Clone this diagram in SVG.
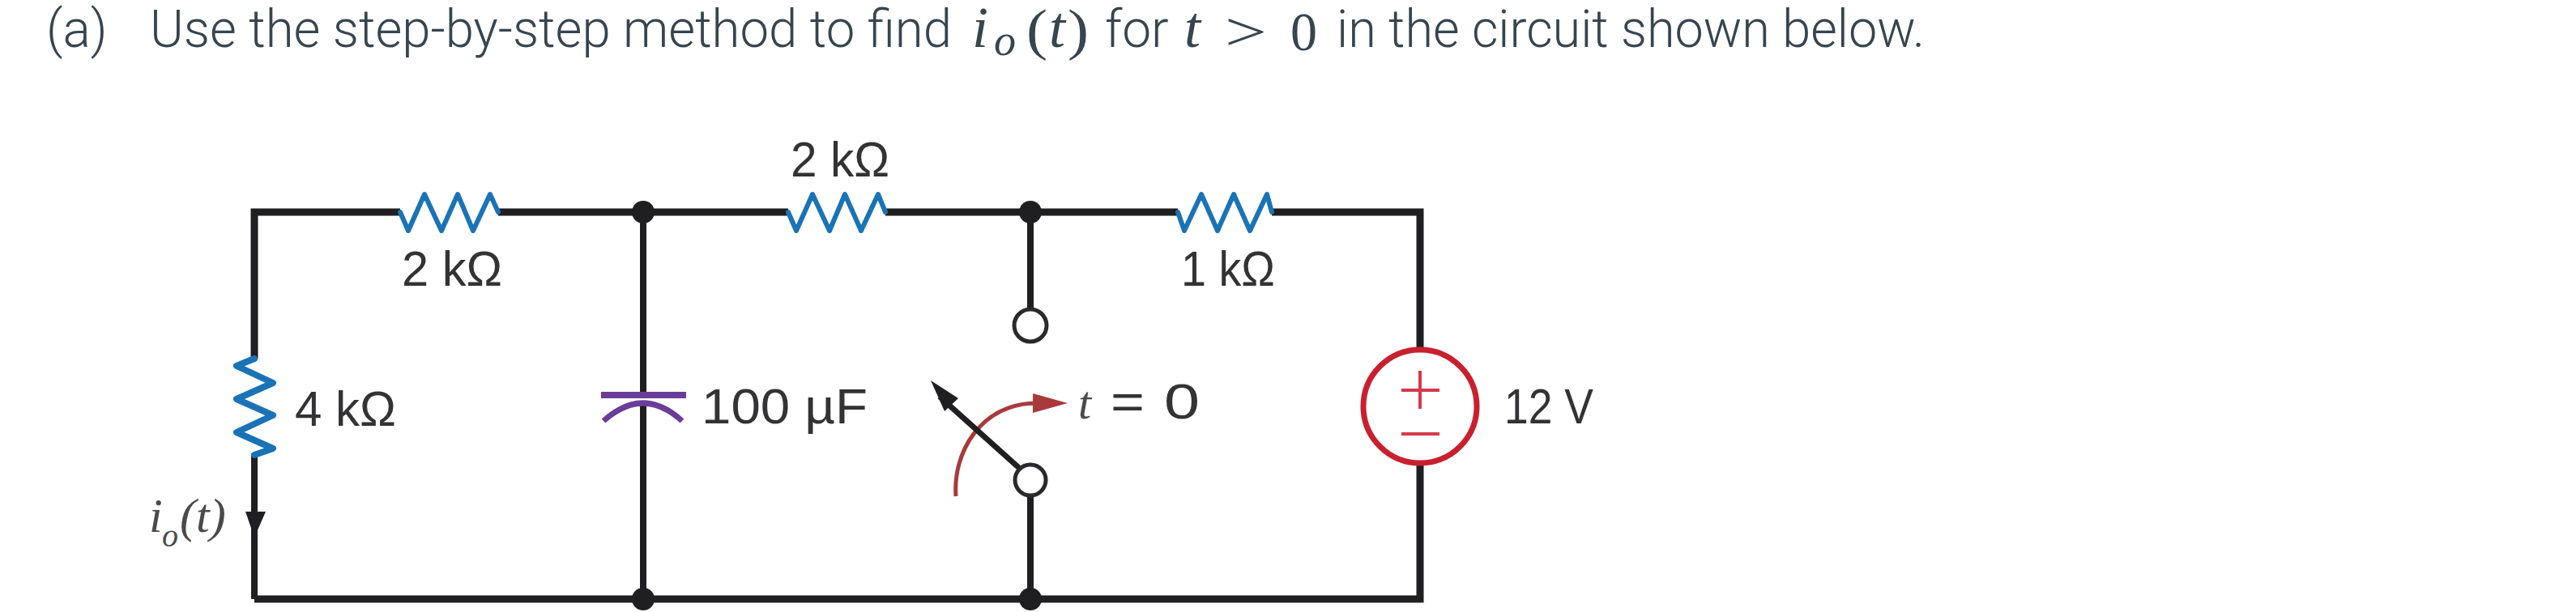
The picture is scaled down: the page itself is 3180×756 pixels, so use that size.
<svg xmlns="http://www.w3.org/2000/svg" width="3180" height="756" viewBox="0 0 3180 756">
<style>
.title{font-family:Roboto,"Liberation Sans",sans-serif;font-size:64px;font-weight:300;fill:#36454f}
.math{font-family:"Liberation Serif",serif;fill:#36454f}
.lbl{font-family:"Liberation Sans",sans-serif;font-size:62px;fill:#333335}
.it{font-family:"Liberation Serif",serif;font-style:italic;fill:#4a4a4c}
.wire{fill:none;stroke:#1f1e20;stroke-width:8;stroke-linejoin:miter}
.thick{stroke-width:9}
.res{fill:none;stroke:#1a73b5;stroke-width:6;stroke-linejoin:round;stroke-linecap:round}
.dot{fill:#1f1e20}
.term{fill:#fff;stroke:#2a2a2c;stroke-width:5}
</style>
<rect width="3180" height="756" fill="#fff"/>
<g id="title">
<text class="title" x="57" y="58">(a)</text>
<text class="title" x="185" y="58" textLength="990" lengthAdjust="spacingAndGlyphs">Use the step-by-step method to find</text>
<text class="math" x="1200" y="58" font-size="72" font-style="italic">i</text>
<text class="math" x="1227" y="68" font-size="54" font-style="italic">o</text>
<text class="math" x="1267" y="60" font-size="70" textLength="26" lengthAdjust="spacingAndGlyphs">(</text>
<text class="math" x="1295" y="58" font-size="72" font-style="italic">t</text>
<text class="math" x="1318" y="60" font-size="70" textLength="26" lengthAdjust="spacingAndGlyphs">)</text>
<text class="title" x="1364" y="58">for</text>
<text class="math" x="1462" y="58" font-size="72" font-style="italic">t</text>
<text class="math" x="1512" y="62" font-size="68" textLength="52" lengthAdjust="spacingAndGlyphs">&gt;</text>
<text class="math" x="1593" y="62" font-size="68" textLength="33" lengthAdjust="spacingAndGlyphs">0</text>
<text class="title" x="1650" y="58" textLength="726" lengthAdjust="spacingAndGlyphs">in the circuit shown below.</text>
</g>
<g id="connectors">
<path class="wire thick" d="M494 262H314V443"/>
<path class="wire" d="M314 562V740"/>
<path class="wire thick" d="M615 262H973"/>
<path class="wire thick" d="M1093 262H1454"/>
<path class="wire thick" d="M1570 262H1753V432"/>
<path class="wire thick" d="M1753 573V740H314"/>
<path class="wire" d="M794 262V488M794 498V740"/>
<path class="wire" d="M1272 262V382M1272 612V740"/>
</g>
<g id="r1"><path class="res" d="M494 262L504 285L524 240L545 285L565 240L584 285L605 240L615 262"/><text class="lbl" x="496" y="353" textLength="124" lengthAdjust="spacingAndGlyphs">2 kΩ</text></g>
<g id="r2"><path class="res" d="M973 262L983 285L1003 240L1024 285L1043 240L1063 285L1084 240L1093 262"/><text class="lbl" x="976" y="218" textLength="122" lengthAdjust="spacingAndGlyphs">2 kΩ</text></g>
<g id="r3"><path class="res" d="M1454 262L1462 285L1483 240L1503 285L1523 240L1543 285L1564 240L1570 262"/><text class="lbl" x="1458" y="353" textLength="116" lengthAdjust="spacingAndGlyphs">1 kΩ</text></g>
<g id="r4"><path class="res" style="stroke-width:8" d="M314 443L292 452L337 473L292 493L337 513L292 534L337 554L314 562"/><text class="lbl" x="364" y="526" textLength="125" lengthAdjust="spacingAndGlyphs">4 kΩ</text></g>
<g id="io">
<path class="dot" d="M303 632H328L314 664Z"/>
<text class="it" x="184" y="657" font-size="60">i</text>
<text class="it" x="200" y="675" font-size="40">o</text>
<text class="it" x="222" y="657" font-size="60">(t)</text>
</g>
<g id="capacitor">
<path d="M742 488H847" fill="none" stroke="#6a3d9a" stroke-width="8"/>
<path d="M745 520Q794 476 842 520" fill="none" stroke="#6a3d9a" stroke-width="7"/>
<text class="lbl" x="866" y="523" textLength="205" lengthAdjust="spacingAndGlyphs">100 µF</text>
</g>
<g id="junctions">
<circle class="dot" cx="794" cy="262" r="14"/><circle class="dot" cx="794" cy="740" r="14"/>
<circle class="dot" cx="1272" cy="262" r="14"/><circle class="dot" cx="1272" cy="740" r="14"/>
</g>
<g id="switch">
<path d="M1180 613C1176 560 1210 498 1280 498" fill="none" stroke="#a83a3c" stroke-width="5"/>
<path d="M1318 498L1275 486V510Z" fill="#a83a3c"/>
<path d="M1258 578L1160 490" class="wire" style="stroke-width:7"/>
<path d="M1149 470L1166 508L1183 492Z" class="dot"/>
<circle class="term" cx="1272" cy="402" r="20"/>
<circle class="term" cx="1272" cy="593" r="19"/>
<text class="it" x="1331" y="517" font-size="58">t</text>
<text class="lbl" x="1371" y="517" textLength="42" lengthAdjust="spacingAndGlyphs">=</text>
<text class="lbl" x="1437" y="517" textLength="44" lengthAdjust="spacingAndGlyphs">0</text>
</g>
<g id="source">
<circle cx="1753" cy="502" r="70" fill="#fff" stroke="#c9202f" stroke-width="7"/>
<path d="M1730 482H1777M1753 458V505M1730 536H1777" fill="none" stroke="#d43a4c" stroke-width="4"/>
<text class="lbl" x="1857" y="523" textLength="110" lengthAdjust="spacingAndGlyphs">12 V</text>
</g>
</svg>
